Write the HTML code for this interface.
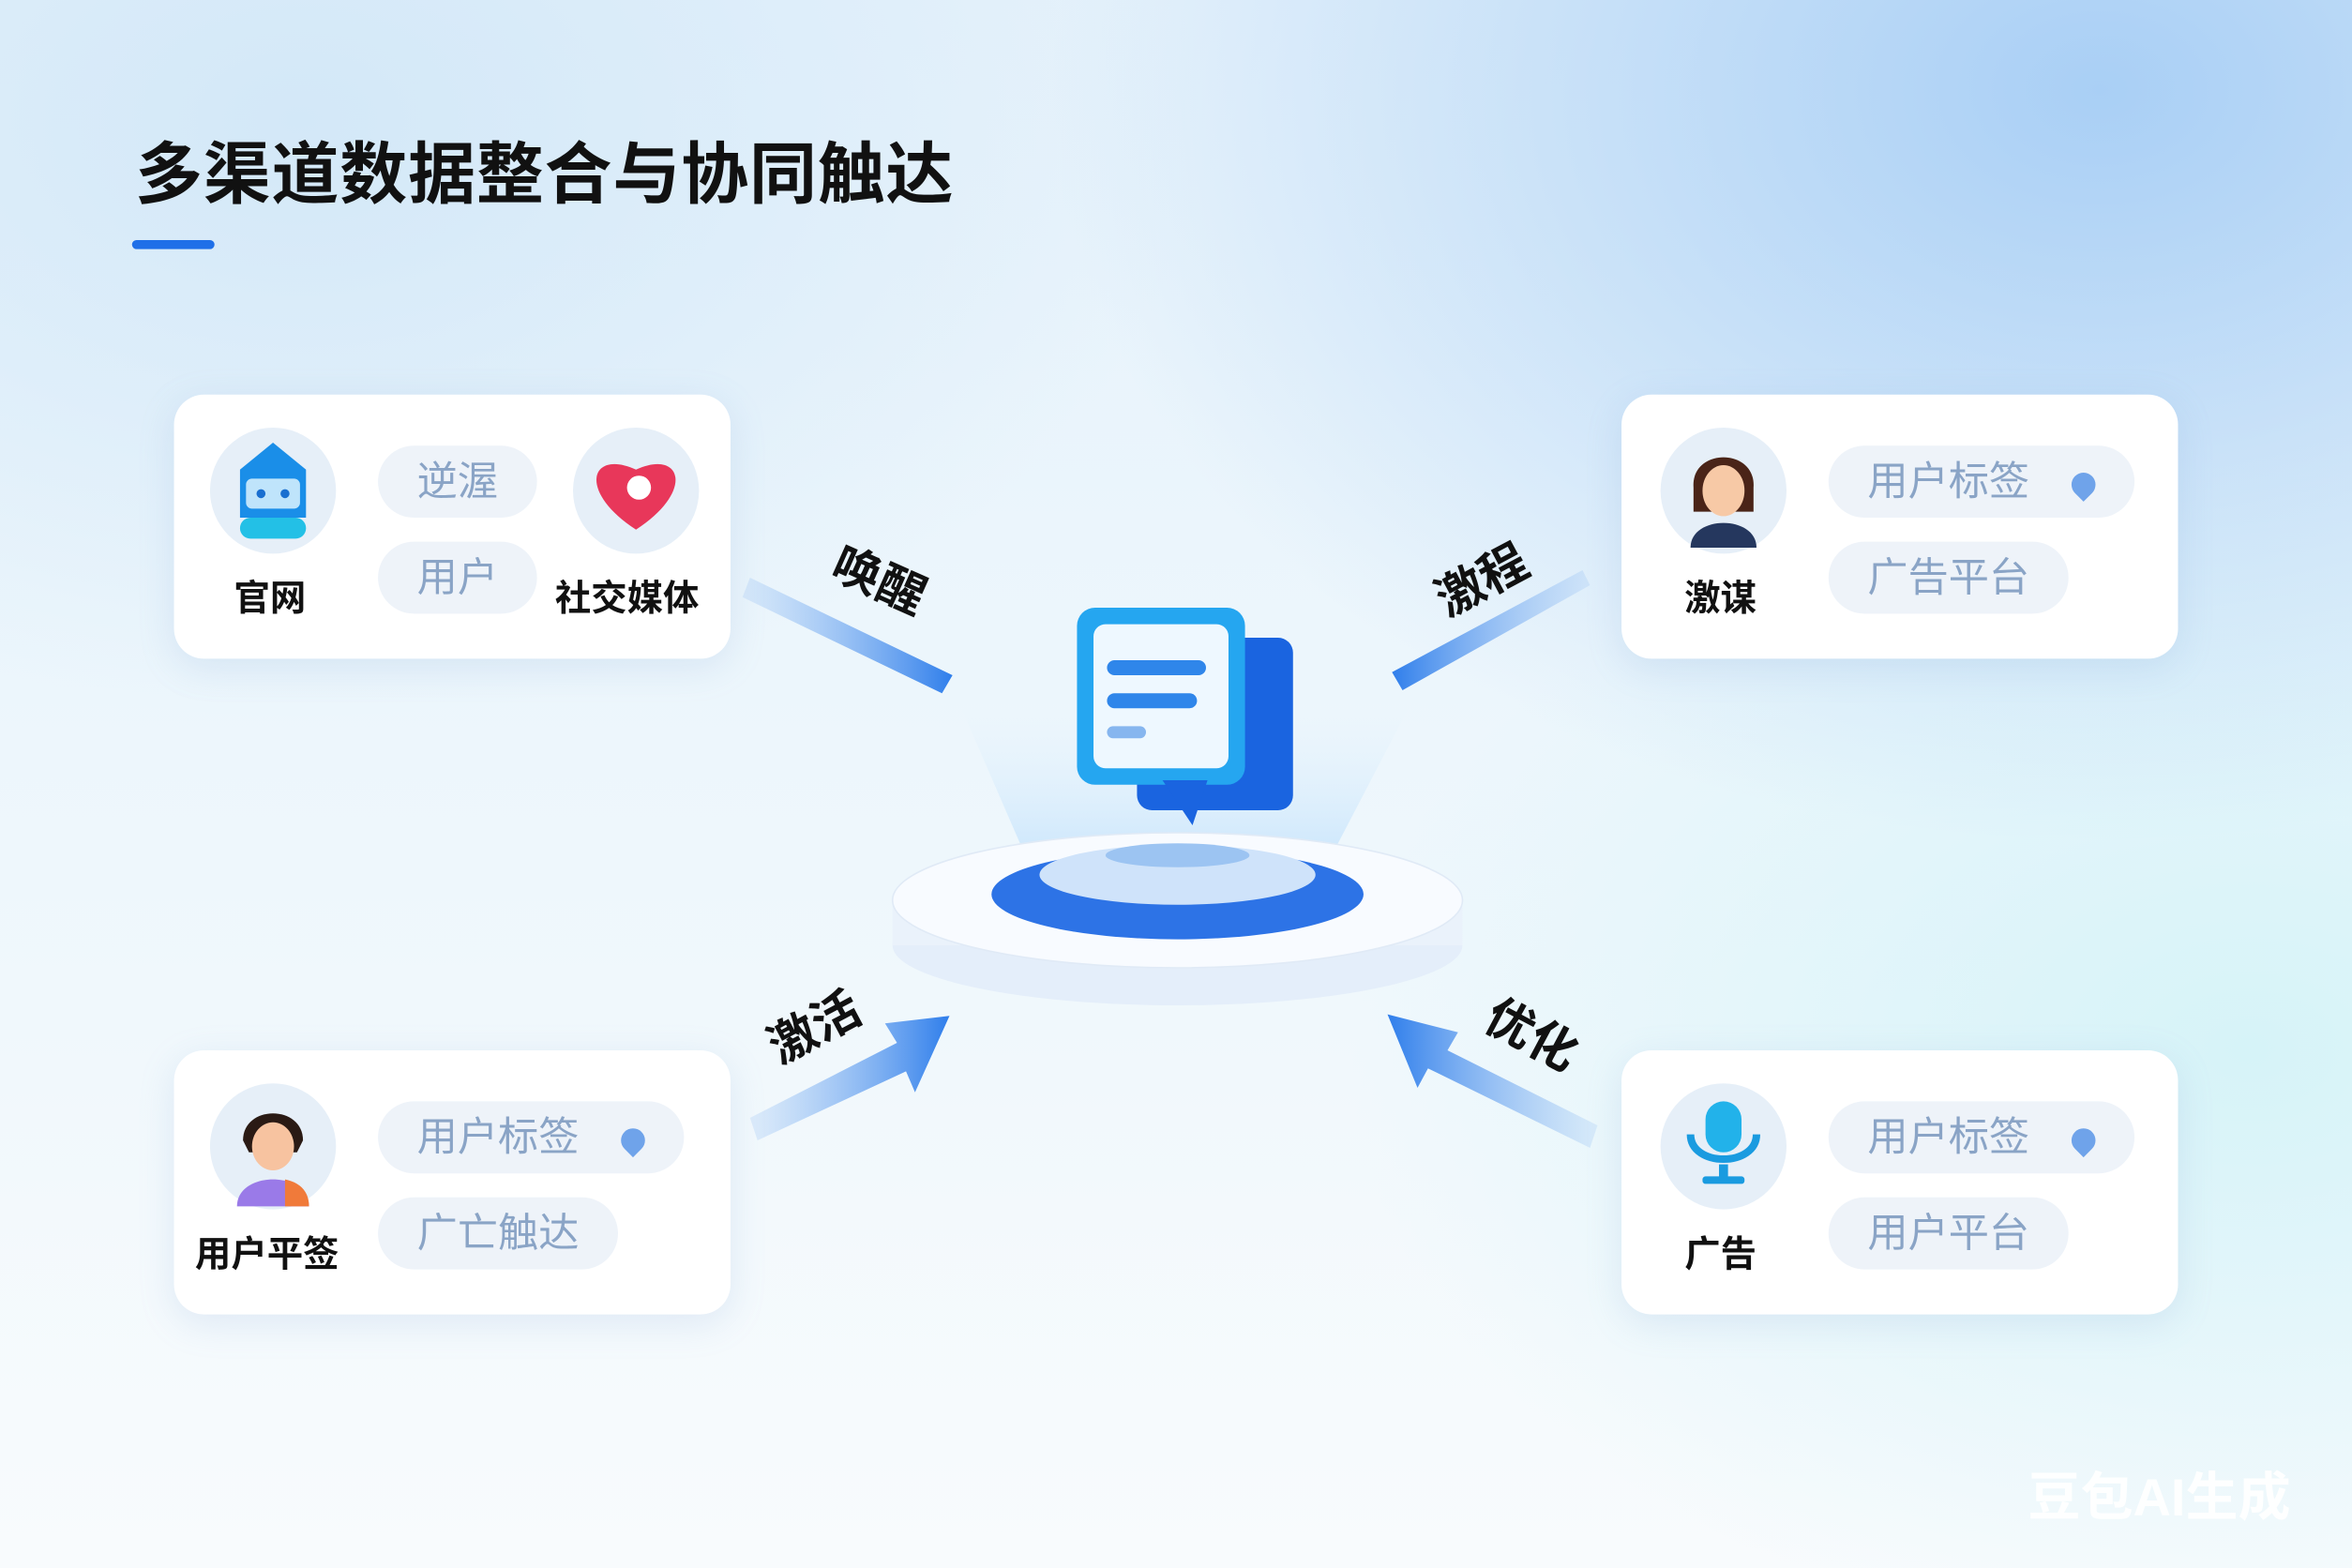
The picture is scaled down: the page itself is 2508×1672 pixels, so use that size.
<!DOCTYPE html>
<html><head><meta charset="utf-8"><style>
html,body{margin:0;padding:0;width:2508px;height:1672px;overflow:hidden}
body{background:#eef6fc}
#w{position:absolute;left:0;top:0;width:1568px;height:1045px;transform:scale(1.5995,1.6);transform-origin:0 0;
background:
radial-gradient(ellipse 700px 500px at 1400px 60px,#a9cff5 0%,rgba(169,207,245,0) 100%),
radial-gradient(ellipse 600px 400px at 1500px 700px,#d6f3f8 0%,rgba(214,243,248,0) 100%),
radial-gradient(ellipse 600px 400px at 200px 80px,#d3e8f8 0%,rgba(211,232,248,0) 100%),
linear-gradient(180deg,#e6f2fb 0%,#eef7fc 55%,#f8fbfd 100%);
font-family:"Liberation Sans","Noto Sans CJK SC",sans-serif;overflow:hidden}
.t{position:absolute;left:90px;top:80px;font-size:45px;font-weight:bold;color:#111;letter-spacing:0.5px}
.ul{position:absolute;left:88px;top:160px;width:55px;height:6px;border-radius:3px;background:#1f6fe8}
.card{position:absolute;width:371px;height:176px;background:#fff;border-radius:20px;box-shadow:0 6px 24px rgba(120,160,210,.18)}
.ic{position:absolute;width:84px;height:84px;border-radius:50%;background:#e6eff8}
.lb{position:absolute;font-size:24px;font-weight:bold;color:#111;white-space:nowrap}
.pill{position:absolute;height:48px;border-radius:24px;background:#eef3f9;color:#8aa4c6;font-size:27px;line-height:48px;padding:0 26px;white-space:nowrap}
.dot{display:inline-block;width:16px;height:16px;border-radius:50% 50% 50% 0;transform:rotate(-45deg);background:#6fa3ea;margin-left:28px;vertical-align:middle}
.al{position:absolute;font-size:32px;font-weight:bold;color:#111}
.wm{position:absolute;left:1352px;top:970px;font-size:35px;font-weight:bold;color:rgba(255,255,255,.9)}
</style></head><body><div id="w">
<div class="t">多渠道数据整合与协同触达</div><div class="ul"></div>

<svg width="1568" height="1045" style="position:absolute;left:0;top:0">
<defs>
<linearGradient id="a1" x1="0" y1="0" x2="1" y2="0"><stop offset="0" stop-color="#8ab8f2" stop-opacity=".2"/><stop offset="1" stop-color="#2f7eeb"/></linearGradient>
<linearGradient id="a2" x1="1" y1="0" x2="0" y2="0"><stop offset="0" stop-color="#8ab8f2" stop-opacity=".2"/><stop offset="1" stop-color="#2f7eeb"/></linearGradient>
<linearGradient id="beam" x1="0" y1="1" x2="0" y2="0"><stop offset="0" stop-color="#bfe0fb" stop-opacity=".9"/><stop offset="1" stop-color="#e0f0fd" stop-opacity="0"/></linearGradient>
</defs>
<polygon points="500,385 635,450 628,462 495,398" fill="url(#a1)"/>
<polygon points="1060,390 935,460 928,448 1055,380" fill="url(#a2)"/>
<polygon points="500,745 598,695 590,682 633,677 610,728 604,714 505,760" fill="url(#a1)"/>
<polygon points="1065,750 965,700 972,688 925,676 945,725 952,712 1060,765" fill="url(#a2)"/>
<polygon points="640,470 940,470 880,585 690,585" fill="url(#beam)"/>
<ellipse cx="785" cy="630" rx="190" ry="40" fill="#e4eefa"/>
<rect x="595" y="600" width="380" height="30" fill="#eaf2fb"/>
<ellipse cx="785" cy="600" rx="190" ry="45" fill="#f8fbff" stroke="#e0eaf6"/>
<ellipse cx="785" cy="596" rx="124" ry="30" fill="#2d73e6"/>
<ellipse cx="785" cy="583" rx="92" ry="20" fill="#cfe3fa"/>
<ellipse cx="785" cy="570" rx="48" ry="8" fill="#9cc4f2"/>
<rect x="758" y="425" width="104" height="115" rx="10" fill="#1a64e0"/>
<rect x="718" y="405" width="112" height="118" rx="12" fill="#25a6f0"/>
<rect x="729" y="416" width="90" height="96" rx="8" fill="#eef8ff"/>
<polygon points="775,520 805,520 795,550" fill="#1a64e0"/>
<rect x="738" y="440" width="66" height="10" rx="5" fill="#2f86ea"/>
<rect x="738" y="462" width="60" height="10" rx="5" fill="#2f86ea"/>
<rect x="738" y="484" width="26" height="8" rx="4" fill="#86b6ef"/>
</svg>

<div class="al" style="left:555px;top:362px;transform:rotate(24deg)">唤醒</div>
<div class="al" style="left:955px;top:362px;transform:rotate(-28deg)">激程</div>
<div class="al" style="left:510px;top:660px;transform:rotate(-28deg)">激活</div>
<div class="al" style="left:990px;top:665px;transform:rotate(28deg)">优化</div>

<div class="card" style="left:116px;top:263px">
 <div class="ic" style="left:24px;top:22px"></div>
 <svg style="position:absolute;left:38px;top:30px" width="56" height="70"><path d="M6 20 L28 2 L50 20 L50 52 L6 52Z" fill="#1a8ee8"/><rect x="10" y="26" width="36" height="20" rx="4" fill="#bfe4fb"/><circle cx="20" cy="36" r="3" fill="#1a6fd0"/><circle cx="36" cy="36" r="3" fill="#1a6fd0"/><rect x="6" y="52" width="44" height="14" rx="7" fill="#23c0e6"/></svg>
 <div class="lb" style="left:40px;top:116px">官网</div>
 <div class="pill" style="left:136px;top:34px">逆渥</div>
 <div class="pill" style="left:136px;top:98px">用户</div>
 <div class="ic" style="left:266px;top:22px"></div>
 <svg style="position:absolute;left:278px;top:36px" width="60" height="56"><path d="M30 54 C-10 28 0 0 30 14 C60 0 70 28 30 54Z" fill="#e8375a"/><circle cx="32" cy="26" r="8" fill="#fff"/></svg>
 <div class="lb" style="left:254px;top:116px">社交媒体</div>
</div>

<div class="card" style="left:1081px;top:263px">
 <div class="ic" style="left:26px;top:22px"></div>
 <svg style="position:absolute;left:36px;top:30px" width="64" height="74"><path d="M10 72 C10 50 54 50 54 72Z" fill="#25375e"/><path d="M12 32 C10 5 54 5 52 32 L52 48 L12 48Z" fill="#4a2418"/><ellipse cx="32" cy="34" rx="14" ry="17" fill="#f7c9a6"/></svg>
 <div class="lb" style="left:42px;top:116px">激谋</div>
 <div class="pill" style="left:138px;top:34px">用户标签<span class="dot"></span></div>
 <div class="pill" style="left:138px;top:98px">广告平台</div>
</div>

<div class="card" style="left:116px;top:700px">
 <div class="ic" style="left:24px;top:22px"></div>
 <svg style="position:absolute;left:34px;top:30px" width="64" height="76"><path d="M8 74 C8 50 56 50 56 74Z" fill="#9a7ae8"/><path d="M40 56 C50 58 56 64 56 74 L40 74Z" fill="#f07a3a"/><path d="M12 30 C12 6 52 6 52 30 L48 38 L16 38Z" fill="#2a1a14"/><ellipse cx="32" cy="34" rx="14" ry="16" fill="#f7c3a0"/></svg>
 <div class="lb" style="left:14px;top:116px">用户平签</div>
 <div class="pill" style="left:136px;top:34px">用户标签<span class="dot"></span></div>
 <div class="pill" style="left:136px;top:98px">广亡触达</div>
</div>

<div class="card" style="left:1081px;top:700px">
 <div class="ic" style="left:26px;top:22px"></div>
 <svg style="position:absolute;left:40px;top:32px" width="56" height="60"><rect x="16" y="2" width="24" height="34" rx="12" fill="#22b2ea"/><path d="M6 24 C6 46 50 46 50 24" stroke="#1a9be0" stroke-width="5" fill="none"/><rect x="25" y="44" width="6" height="10" fill="#1a9be0"/><rect x="14" y="52" width="28" height="5" rx="2" fill="#1a9be0"/></svg>
 <div class="lb" style="left:42px;top:116px">广告</div>
 <div class="pill" style="left:138px;top:34px">用户标签<span class="dot"></span></div>
 <div class="pill" style="left:138px;top:98px">用户平台</div>
</div>

<div class="wm">豆包AI生成</div>
</div></body></html>
